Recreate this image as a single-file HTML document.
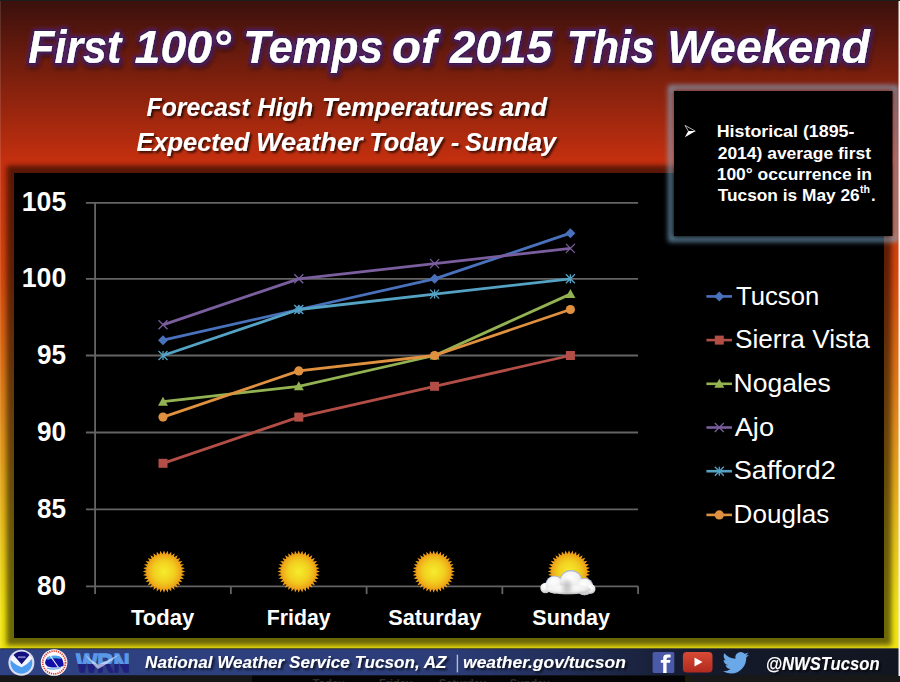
<!DOCTYPE html>
<html><head><meta charset="utf-8"><style>
html,body{margin:0;padding:0;}
body{width:900px;height:682px;overflow:hidden;position:relative;background:#161616;font-family:"Liberation Sans",sans-serif;}
svg{position:absolute;left:0;top:0;}
.yl{font-family:"Liberation Sans",sans-serif;font-weight:bold;font-size:28px;fill:#fff;}
.xl{font-family:"Liberation Sans",sans-serif;font-weight:bold;font-size:22px;fill:#fff;}
.lg{font-family:"Liberation Sans",sans-serif;font-size:26px;fill:#fff;}
.ti{font-family:"Liberation Sans",sans-serif;font-weight:bold;font-style:italic;}
.inf{font-family:"Liberation Sans",sans-serif;font-weight:bold;font-size:16.5px;fill:#fff;}
</style></head><body>
<svg width="900" height="682" viewBox="0 0 900 682">
<defs>
<linearGradient id="bg" x1="0" y1="0" x2="0" y2="1" gradientUnits="objectBoundingBox">
<stop offset="0" stop-color="#3a100c"/>
<stop offset="0.25" stop-color="#c5300f"/>
<stop offset="0.42" stop-color="#d4460c"/>
<stop offset="0.645" stop-color="#e08a18"/>
<stop offset="0.835" stop-color="#e8c418"/>
<stop offset="0.95" stop-color="#f0e410"/>
<stop offset="1" stop-color="#f0e410"/>
</linearGradient>
<linearGradient id="foot" x1="0" y1="0" x2="1" y2="0">
<stop offset="0" stop-color="#2f4283"/>
<stop offset="0.5" stop-color="#2c3d78"/>
<stop offset="0.78" stop-color="#141a2c"/>
<stop offset="1" stop-color="#121620"/>
</linearGradient>
<radialGradient id="sung" cx="0.5" cy="0.5" r="0.5">
<stop offset="0" stop-color="#f5ec2c"/>
<stop offset="0.6" stop-color="#f2cf1f"/>
<stop offset="0.92" stop-color="#eeac18"/>
<stop offset="1" stop-color="#ec9e16"/>
</radialGradient>
<radialGradient id="cloudg" cx="0.45" cy="0.3" r="0.7">
<stop offset="0" stop-color="#ffffff"/>
<stop offset="0.6" stop-color="#f0f0f0"/>
<stop offset="1" stop-color="#bdbdbd"/>
</radialGradient>
<filter id="soft" x="-20%" y="-20%" width="140%" height="140%"><feGaussianBlur stdDeviation="0.5"/></filter>
<filter id="soft2" x="-50%" y="-50%" width="200%" height="200%"><feGaussianBlur stdDeviation="2"/></filter>
<filter id="shadow" x="-10%" y="-10%" width="120%" height="120%">
<feGaussianBlur stdDeviation="2.6"/>
</filter>
<filter id="glow" x="-10%" y="-50%" width="120%" height="200%">
<feMorphology operator="dilate" radius="2.2" in="SourceAlpha" result="d"/>
<feGaussianBlur in="d" stdDeviation="2.2" result="b"/>
<feFlood flood-color="#5c2a6c"/>
<feComposite in2="b" operator="in" result="g"/>
<feMorphology operator="dilate" radius="1.2" in="SourceAlpha" result="d1"/>
<feGaussianBlur in="d1" stdDeviation="0.9" result="b1"/>
<feFlood flood-color="#2c1650"/>
<feComposite in2="b1" operator="in" result="g1"/>
<feGaussianBlur in="d" stdDeviation="2.5" result="b2"/>
<feOffset in="b2" dx="1.2" dy="3" result="o2"/>
<feFlood flood-color="#100414" flood-opacity="0.7"/>
<feComposite in2="o2" operator="in" result="g2"/>
<feMerge><feMergeNode in="g2"/><feMergeNode in="g"/><feMergeNode in="g1"/><feMergeNode in="SourceGraphic"/></feMerge>
</filter>
<filter id="sh2" x="-10%" y="-50%" width="120%" height="200%">
<feGaussianBlur in="SourceAlpha" stdDeviation="1.2" result="b"/>
<feOffset in="b" dx="1.5" dy="2" result="o"/>
<feFlood flood-color="#000" flood-opacity="0.7"/>
<feComposite in2="o" operator="in" result="s"/>
<feMerge><feMergeNode in="s"/><feMergeNode in="SourceGraphic"/></feMerge>
</filter>
<filter id="ibglow" x="-10%" y="-10%" width="120%" height="120%">
<feGaussianBlur stdDeviation="2.5"/>
</filter>
</defs>
<rect x="0" y="0" width="900" height="649" fill="url(#bg)"/>
<!-- title -->
<g class="ti" font-size="46" fill="#fff" filter="url(#glow)"><text x="28.3" y="63.2" textLength="92.91" lengthAdjust="spacingAndGlyphs">First</text><text x="134.5" y="63.2" textLength="96.36" lengthAdjust="spacingAndGlyphs">100°</text><text x="243.3" y="63.2" textLength="139.75" lengthAdjust="spacingAndGlyphs">Temps</text><text x="392" y="63.2" textLength="44.95" lengthAdjust="spacingAndGlyphs">of</text><text x="450" y="63.2" textLength="101.95" lengthAdjust="spacingAndGlyphs">2015</text><text x="566.8" y="63.2" textLength="87.84" lengthAdjust="spacingAndGlyphs">This</text><text x="667.2" y="63.2" textLength="202.74" lengthAdjust="spacingAndGlyphs">Weekend</text></g>
<g filter="url(#sh2)" fill="#fff" class="ti" font-size="25.5"><text x="146.6" y="116.2" textLength="103.12" lengthAdjust="spacingAndGlyphs">Forecast</text><text x="257.2" y="116.2" textLength="56.06" lengthAdjust="spacingAndGlyphs">High</text><text x="321.7" y="116.2" textLength="171.99" lengthAdjust="spacingAndGlyphs">Temperatures</text><text x="499.2" y="116.2" textLength="47.91" lengthAdjust="spacingAndGlyphs">and</text><text x="136.5" y="151.2" textLength="113.0" lengthAdjust="spacingAndGlyphs">Expected</text><text x="256" y="151.2" textLength="106.57" lengthAdjust="spacingAndGlyphs">Weather</text><text x="369.3" y="151.2" textLength="73.55" lengthAdjust="spacingAndGlyphs">Today</text><text x="450.7" y="151.2" textLength="8.6" lengthAdjust="spacingAndGlyphs">-</text><text x="465" y="151.2" textLength="91.12" lengthAdjust="spacingAndGlyphs">Sunday</text></g>
<!-- chart box -->
<rect x="6.5" y="165.5" width="885" height="480" fill="#000" opacity="0.55" filter="url(#shadow)"/>
<rect x="14" y="173" width="870" height="465" fill="#000"/>
<line x1="85.9" y1="586.3" x2="638.1" y2="586.3" stroke="#646464" stroke-width="1.8"/>
<line x1="85.9" y1="509.4" x2="638.1" y2="509.4" stroke="#646464" stroke-width="1.8"/>
<line x1="85.9" y1="432.5" x2="638.1" y2="432.5" stroke="#646464" stroke-width="1.8"/>
<line x1="85.9" y1="355.5" x2="638.1" y2="355.5" stroke="#646464" stroke-width="1.8"/>
<line x1="85.9" y1="278.8" x2="638.1" y2="278.8" stroke="#646464" stroke-width="1.8"/>
<line x1="85.9" y1="202.8" x2="638.1" y2="202.8" stroke="#646464" stroke-width="1.8"/>
<line x1="95.1" y1="202.8" x2="95.1" y2="594.1" stroke="#646464" stroke-width="1.8"/>
<line x1="230.85" y1="586.3" x2="230.85" y2="594.1" stroke="#646464" stroke-width="1.8"/>
<line x1="366.6" y1="586.3" x2="366.6" y2="594.1" stroke="#646464" stroke-width="1.8"/>
<line x1="502.35" y1="586.3" x2="502.35" y2="594.1" stroke="#646464" stroke-width="1.8"/>
<line x1="638.1" y1="586.3" x2="638.1" y2="594.1" stroke="#646464" stroke-width="1.8"/>
<text x="37" y="594.6" textLength="29.08" lengthAdjust="spacingAndGlyphs" class="yl">80</text>
<text x="37" y="517.7" textLength="29.08" lengthAdjust="spacingAndGlyphs" class="yl">85</text>
<text x="37" y="440.8" textLength="29.08" lengthAdjust="spacingAndGlyphs" class="yl">90</text>
<text x="37" y="363.8" textLength="29.08" lengthAdjust="spacingAndGlyphs" class="yl">95</text>
<text x="21.7" y="287.1" textLength="44.6" lengthAdjust="spacingAndGlyphs" class="yl">100</text>
<text x="21.7" y="211.1" textLength="44.6" lengthAdjust="spacingAndGlyphs" class="yl">105</text>
<text x="131" y="624.5" textLength="63.36" lengthAdjust="spacingAndGlyphs" class="xl">Today</text>
<text x="266.8" y="624.5" textLength="63.8" lengthAdjust="spacingAndGlyphs" class="xl">Friday</text>
<text x="388.3" y="624.5" textLength="92.95" lengthAdjust="spacingAndGlyphs" class="xl">Saturday</text>
<text x="532.3" y="624.5" textLength="77.64" lengthAdjust="spacingAndGlyphs" class="xl">Sunday</text>
<polygon points="185.20,571.60 181.33,573.12 184.88,575.28 180.81,576.10 183.92,578.85 179.77,578.95 182.36,582.20 178.25,581.58 180.24,585.23 176.30,583.90 177.63,587.84 173.98,585.85 174.60,589.96 171.35,587.37 171.25,591.52 168.50,588.41 167.68,592.48 165.52,588.93 164.00,592.80 162.48,588.93 160.32,592.48 159.50,588.41 156.75,591.52 156.65,587.37 153.40,589.96 154.02,585.85 150.37,587.84 151.70,583.90 147.76,585.23 149.75,581.58 145.64,582.20 148.23,578.95 144.08,578.85 147.19,576.10 143.12,575.28 146.67,573.12 142.80,571.60 146.67,570.08 143.12,567.92 147.19,567.10 144.08,564.35 148.23,564.25 145.64,561.00 149.75,561.62 147.76,557.97 151.70,559.30 150.37,555.36 154.02,557.35 153.40,553.24 156.65,555.83 156.75,551.68 159.50,554.79 160.32,550.72 162.48,554.27 164.00,550.40 165.52,554.27 167.68,550.72 168.50,554.79 171.25,551.68 171.35,555.83 174.60,553.24 173.98,557.35 177.63,555.36 176.30,559.30 180.24,557.97 178.25,561.62 182.36,561.00 179.77,564.25 183.92,564.35 180.81,567.10 184.88,567.92 181.33,570.08" fill="#EE9E16"/><circle cx="164" cy="571.6" r="17.6" fill="url(#sung)"/>
<polygon points="319.90,571.60 316.03,573.12 319.58,575.28 315.51,576.10 318.62,578.85 314.47,578.95 317.06,582.20 312.95,581.58 314.94,585.23 311.00,583.90 312.33,587.84 308.68,585.85 309.30,589.96 306.05,587.37 305.95,591.52 303.20,588.41 302.38,592.48 300.22,588.93 298.70,592.80 297.18,588.93 295.02,592.48 294.20,588.41 291.45,591.52 291.35,587.37 288.10,589.96 288.72,585.85 285.07,587.84 286.40,583.90 282.46,585.23 284.45,581.58 280.34,582.20 282.93,578.95 278.78,578.85 281.89,576.10 277.82,575.28 281.37,573.12 277.50,571.60 281.37,570.08 277.82,567.92 281.89,567.10 278.78,564.35 282.93,564.25 280.34,561.00 284.45,561.62 282.46,557.97 286.40,559.30 285.07,555.36 288.72,557.35 288.10,553.24 291.35,555.83 291.45,551.68 294.20,554.79 295.02,550.72 297.18,554.27 298.70,550.40 300.22,554.27 302.38,550.72 303.20,554.79 305.95,551.68 306.05,555.83 309.30,553.24 308.68,557.35 312.33,555.36 311.00,559.30 314.94,557.97 312.95,561.62 317.06,561.00 314.47,564.25 318.62,564.35 315.51,567.10 319.58,567.92 316.03,570.08" fill="#EE9E16"/><circle cx="298.7" cy="571.6" r="17.6" fill="url(#sung)"/>
<polygon points="454.90,571.60 451.03,573.12 454.58,575.28 450.51,576.10 453.62,578.85 449.47,578.95 452.06,582.20 447.95,581.58 449.94,585.23 446.00,583.90 447.33,587.84 443.68,585.85 444.30,589.96 441.05,587.37 440.95,591.52 438.20,588.41 437.38,592.48 435.22,588.93 433.70,592.80 432.18,588.93 430.02,592.48 429.20,588.41 426.45,591.52 426.35,587.37 423.10,589.96 423.72,585.85 420.07,587.84 421.40,583.90 417.46,585.23 419.45,581.58 415.34,582.20 417.93,578.95 413.78,578.85 416.89,576.10 412.82,575.28 416.37,573.12 412.50,571.60 416.37,570.08 412.82,567.92 416.89,567.10 413.78,564.35 417.93,564.25 415.34,561.00 419.45,561.62 417.46,557.97 421.40,559.30 420.07,555.36 423.72,557.35 423.10,553.24 426.35,555.83 426.45,551.68 429.20,554.79 430.02,550.72 432.18,554.27 433.70,550.40 435.22,554.27 437.38,550.72 438.20,554.79 440.95,551.68 441.05,555.83 444.30,553.24 443.68,557.35 447.33,555.36 446.00,559.30 449.94,557.97 447.95,561.62 452.06,561.00 449.47,564.25 453.62,564.35 450.51,567.10 454.58,567.92 451.03,570.08" fill="#EE9E16"/><circle cx="433.7" cy="571.6" r="17.6" fill="url(#sung)"/>
<polygon points="590.20,571.40 586.33,572.92 589.88,575.08 585.81,575.90 588.92,578.65 584.77,578.75 587.36,582.00 583.25,581.38 585.24,585.03 581.30,583.70 582.63,587.64 578.98,585.65 579.60,589.76 576.35,587.17 576.25,591.32 573.50,588.21 572.68,592.28 570.52,588.73 569.00,592.60 567.48,588.73 565.32,592.28 564.50,588.21 561.75,591.32 561.65,587.17 558.40,589.76 559.02,585.65 555.37,587.64 556.70,583.70 552.76,585.03 554.75,581.38 550.64,582.00 553.23,578.75 549.08,578.65 552.19,575.90 548.12,575.08 551.67,572.92 547.80,571.40 551.67,569.88 548.12,567.72 552.19,566.90 549.08,564.15 553.23,564.05 550.64,560.80 554.75,561.42 552.76,557.77 556.70,559.10 555.37,555.16 559.02,557.15 558.40,553.04 561.65,555.63 561.75,551.48 564.50,554.59 565.32,550.52 567.48,554.07 569.00,550.20 570.52,554.07 572.68,550.52 573.50,554.59 576.25,551.48 576.35,555.63 579.60,553.04 578.98,557.15 582.63,555.16 581.30,559.10 585.24,557.77 583.25,561.42 587.36,560.80 584.77,564.05 588.92,564.15 585.81,566.90 589.88,567.72 586.33,569.88" fill="#EE9E16"/><circle cx="569" cy="571.4" r="17.6" fill="url(#sung)"/>
<g filter="url(#soft)">
<g fill="#a8b4d8">
<circle cx="554.5" cy="584.5" r="9"/><circle cx="571" cy="581.3" r="11.4"/><circle cx="584.5" cy="586.5" r="8.8"/>
</g>
<g fill="url(#cloudg)">
<circle cx="545.5" cy="588" r="5.2"/><circle cx="554.5" cy="585" r="8.4"/><circle cx="571" cy="582" r="10.8"/><circle cx="584.5" cy="587" r="8.2"/><circle cx="590.5" cy="589" r="5"/>
<ellipse cx="568" cy="589.5" rx="23" ry="4.8"/>
</g>
<ellipse cx="567" cy="587" rx="4.5" ry="6.5" fill="#9a9a9a" opacity="0.55" filter="url(#soft2)"/>
</g>
<polyline points="163,340.2 298.8,309.5 434.6,278.8 570.4,233.2" fill="none" stroke="#4a72bc" stroke-width="2.8" stroke-linejoin="round"/>
<path d="M163.0 335.2L168.0 340.2L163.0 345.2L158.0 340.2Z" fill="#4a72bc"/>
<path d="M298.8 304.5L303.8 309.5L298.8 314.5L293.8 309.5Z" fill="#4a72bc"/>
<path d="M434.6 273.8L439.6 278.8L434.6 283.8L429.6 278.8Z" fill="#4a72bc"/>
<path d="M570.4 228.2L575.4 233.2L570.4 238.2L565.4 233.2Z" fill="#4a72bc"/>
<polyline points="163,463.3 298.8,417.1 434.6,386.3 570.4,355.5" fill="none" stroke="#b34e47" stroke-width="2.8" stroke-linejoin="round"/>
<rect x="158.5" y="458.8" width="9.0" height="9.0" fill="#b34e47"/>
<rect x="294.3" y="412.6" width="9.0" height="9.0" fill="#b34e47"/>
<rect x="430.1" y="381.8" width="9.0" height="9.0" fill="#b34e47"/>
<rect x="565.9" y="351.0" width="9.0" height="9.0" fill="#b34e47"/>
<polyline points="163,401.7 298.8,386.3 434.6,355.5 570.4,294.1" fill="none" stroke="#93b352" stroke-width="2.8" stroke-linejoin="round"/>
<path d="M163.0 396.7L168.0 405.7L158.0 405.7Z" fill="#93b352"/>
<path d="M298.8 381.3L303.8 390.3L293.8 390.3Z" fill="#93b352"/>
<path d="M434.6 350.5L439.6 359.5L429.6 359.5Z" fill="#93b352"/>
<path d="M570.4 289.1L575.4 298.1L565.4 298.1Z" fill="#93b352"/>
<polyline points="163,324.8 298.8,278.8 434.6,263.6 570.4,248.4" fill="none" stroke="#7a5e9e" stroke-width="2.8" stroke-linejoin="round"/>
<path d="M158.5 320.3L167.5 329.3M167.5 320.3L158.5 329.3" stroke="#7a5e9e" stroke-width="1.3" fill="none"/>
<path d="M294.3 274.3L303.3 283.3M303.3 274.3L294.3 283.3" stroke="#7a5e9e" stroke-width="1.3" fill="none"/>
<path d="M430.1 259.1L439.1 268.1M439.1 259.1L430.1 268.1" stroke="#7a5e9e" stroke-width="1.3" fill="none"/>
<path d="M565.9 243.9L574.9 252.9M574.9 243.9L565.9 252.9" stroke="#7a5e9e" stroke-width="1.3" fill="none"/>
<polyline points="163,355.5 298.8,309.5 434.6,294.1 570.4,278.8" fill="none" stroke="#55a3c4" stroke-width="2.8" stroke-linejoin="round"/>
<path d="M158.5 351.0L167.5 360.0M167.5 351.0L158.5 360.0M163.0 351.0L163.0 360.0" stroke="#55a3c4" stroke-width="1.3" fill="none"/>
<path d="M294.3 305.0L303.3 314.0M303.3 305.0L294.3 314.0M298.8 305.0L298.8 314.0" stroke="#55a3c4" stroke-width="1.3" fill="none"/>
<path d="M430.1 289.6L439.1 298.6M439.1 289.6L430.1 298.6M434.6 289.6L434.6 298.6" stroke="#55a3c4" stroke-width="1.3" fill="none"/>
<path d="M565.9 274.3L574.9 283.3M574.9 274.3L565.9 283.3M570.4 274.3L570.4 283.3" stroke="#55a3c4" stroke-width="1.3" fill="none"/>
<polyline points="163,417.1 298.8,370.9 434.6,355.5 570.4,309.5" fill="none" stroke="#e0913f" stroke-width="2.8" stroke-linejoin="round"/>
<circle cx="163.0" cy="417.1" r="4.6" fill="#e0913f"/>
<circle cx="298.8" cy="370.9" r="4.6" fill="#e0913f"/>
<circle cx="434.6" cy="355.5" r="4.6" fill="#e0913f"/>
<circle cx="570.4" cy="309.5" r="4.6" fill="#e0913f"/>
<line x1="706.4" y1="296.4" x2="732" y2="296.4" stroke="#4a72bc" stroke-width="2.6"/>
<path d="M719.3 291.4L724.3 296.4L719.3 301.4L714.3 296.4Z" fill="#4a72bc"/>
<text x="736" y="304.6" textLength="83.28" lengthAdjust="spacingAndGlyphs" class="lg">Tucson</text>
<line x1="706.4" y1="340.1" x2="732" y2="340.1" stroke="#b34e47" stroke-width="2.6"/>
<rect x="714.8" y="335.6" width="9.0" height="9.0" fill="#b34e47"/>
<text x="735" y="348.3" textLength="134.93" lengthAdjust="spacingAndGlyphs" class="lg">Sierra Vista</text>
<line x1="706.4" y1="383.8" x2="732" y2="383.8" stroke="#93b352" stroke-width="2.6"/>
<path d="M719.3 378.8L724.3 387.8L714.3 387.8Z" fill="#93b352"/>
<text x="733.6" y="392.0" textLength="97.26" lengthAdjust="spacingAndGlyphs" class="lg">Nogales</text>
<line x1="706.4" y1="427.5" x2="732" y2="427.5" stroke="#7a5e9e" stroke-width="2.6"/>
<path d="M714.8 423.0L723.8 432.0M723.8 423.0L714.8 432.0" stroke="#7a5e9e" stroke-width="1.3" fill="none"/>
<text x="734.7" y="435.7" textLength="39.41" lengthAdjust="spacingAndGlyphs" class="lg">Ajo</text>
<line x1="706.4" y1="471.2" x2="732" y2="471.2" stroke="#55a3c4" stroke-width="2.6"/>
<path d="M714.8 466.7L723.8 475.7M723.8 466.7L714.8 475.7M719.3 466.7L719.3 475.7" stroke="#55a3c4" stroke-width="1.3" fill="none"/>
<text x="733.7" y="479.4" textLength="102.11" lengthAdjust="spacingAndGlyphs" class="lg">Safford2</text>
<line x1="706.4" y1="514.9" x2="732" y2="514.9" stroke="#e0913f" stroke-width="2.6"/>
<circle cx="719.3" cy="514.9" r="4.6" fill="#e0913f"/>
<text x="733.6" y="523.1" textLength="95.62" lengthAdjust="spacingAndGlyphs" class="lg">Douglas</text>
<!-- info box -->
<rect x="670.5" y="87.5" width="225.5" height="152" fill="none" stroke="#80b4d8" stroke-width="4.5" opacity="0.75" filter="url(#ibglow)"/>
<rect x="674" y="91" width="218.5" height="145" fill="#000"/>
<path d="M688.3 131.1 L695.7 131.1 L684.8 137.3Z" fill="#fff"/><path d="M685 125.4 L695.3 131.1 M685 125.4 L688.3 131.1" stroke="#c8c8c8" stroke-width="0.9" fill="none"/>
<g class="inf">
<text x="716.7" y="137.3" textLength="137.81" lengthAdjust="spacingAndGlyphs">Historical (1895-</text>
<text x="717.7" y="158.7" textLength="153.33" lengthAdjust="spacingAndGlyphs">2014) average first</text>
<text x="716.7" y="179.8" textLength="155.23" lengthAdjust="spacingAndGlyphs">100° occurrence in</text>
<text x="717.7" y="200.7" textLength="142.04" lengthAdjust="spacingAndGlyphs">Tucson is May 26</text>
<text x="860" y="193" font-size="10.5" textLength="10" lengthAdjust="spacingAndGlyphs">th</text>
<text x="871" y="200.7">.</text>
</g>
<!-- footer -->
<rect x="0" y="675.5" width="252" height="7" fill="#161616"/>
<rect x="252" y="675.5" width="433" height="7" fill="#040404"/>
<rect x="685" y="675.5" width="5" height="7" fill="#1c1a08"/>
<rect x="690" y="675.5" width="210" height="7" fill="#181818"/>
<g font-family="Liberation Sans" font-weight="bold" font-size="11" fill="#2e2e2e" text-anchor="middle">
<text x="328.5" y="686.5">Today</text><text x="395.5" y="686.5">Friday</text><text x="462.5" y="686.5">Saturday</text><text x="529.5" y="686.5">Sunday</text>
</g>
<rect x="0" y="648.3" width="900" height="1.2" fill="#1a2040"/>
<rect x="0" y="649.2" width="900" height="26" fill="url(#foot)"/>
<g class="ti" fill="#fff" filter="url(#sh2)">
<text x="145.1" y="667.6" font-size="16" textLength="301.42" lengthAdjust="spacingAndGlyphs">National Weather Service Tucson, AZ</text>
<text x="463.1" y="667.6" font-size="16" textLength="162.7" lengthAdjust="spacingAndGlyphs">weather.gov/tucson</text>
<text x="765.7" y="669.8" font-size="18" textLength="113.94" lengthAdjust="spacingAndGlyphs">@NWSTucson</text>
</g>
<rect x="456.7" y="654.7" width="1.4" height="17.7" fill="#b8bcc8"/>
<!-- logos -->
<circle cx="21.4" cy="662.7" r="13" fill="#dcdcee"/>
<circle cx="21.4" cy="662.7" r="11.2" fill="#f4f6ff"/>
<path d="M10.74 660 Q16 665.5 21.6 667.2 Q27 665 31.76 659 A11 11 0 1 1 10.74 660 Z" fill="#4c9cf0"/>
<path d="M13.5 655 A11 11 0 0 1 29.5 655 L21.6 664.2 Z" fill="#14107e"/>
<rect x="18" y="656.3" width="7.5" height="1.8" fill="#9a9ad8" opacity="0.8"/>
<circle cx="54.1" cy="662.5" r="13.3" fill="#fbfbff"/>
<circle cx="54.1" cy="662.5" r="11.4" fill="none" stroke="#e04030" stroke-width="1.8" stroke-dasharray="1.3 0.9"/>
<path d="M45 663 Q46 657 50 656.5 Q56 655 61 657.5 Q64 661 63.5 666 Q58 668 52 667.5 Q46 667 45 663Z" fill="#1010a8"/>
<path d="M47 657.5 Q53 654 60 656.5 L61 659 Q53 657 47.5 660Z" fill="#4aa4e8"/>
<path d="M50 655.5 L58.5 667.5" stroke="#e8f0ff" stroke-width="1.2"/>
<path d="M47 668 Q54 670.5 61 667.5" stroke="#60a8e8" stroke-width="1.2" fill="none"/>
<clipPath id="wrnTop"><rect x="70" y="650" width="65" height="14"/></clipPath>
<clipPath id="wrnBot"><rect x="70" y="664" width="65" height="12"/></clipPath>
<text x="76.3" y="672" font-size="25" font-weight="bold" fill="#5a98e8" stroke="#5a98e8" stroke-width="1.4" font-family="Liberation Sans" textLength="53.2" lengthAdjust="spacingAndGlyphs" clip-path="url(#wrnTop)">WRN</text>
<text x="76.3" y="672" font-size="25" font-weight="bold" fill="#20207e" stroke="#20207e" stroke-width="1.4" font-family="Liberation Sans" textLength="53.2" lengthAdjust="spacingAndGlyphs" clip-path="url(#wrnBot)">WRN</text>
<path d="M85 654.5 Q92 664 98 669 Q108 664 119 654.5 Q107 661 98 664.5 Q92 661 85 654.5Z" fill="#dce8ff" opacity="0.7"/>
<rect x="652.6" y="651.9" width="21.7" height="21" rx="1.5" fill="#4a5aa8"/>
<path d="M663.2 672.9 V662.8 H660.8 V660 H663.2 V658 Q663.2 654.6 667 654.6 H670.6 V657.4 H668.2 Q666.6 657.4 666.6 659 V660 H670.4 L670 662.8 H666.6 V672.9Z" fill="#fff"/>
<linearGradient id="ytg" x1="0" y1="0" x2="0" y2="1"><stop offset="0" stop-color="#d84a34"/><stop offset="1" stop-color="#b02a1e"/></linearGradient>
<rect x="682.9" y="651.9" width="29.6" height="20.6" rx="4" fill="url(#ytg)"/>
<path d="M694.5 657.4 L702.5 662 L694.5 666.6Z" fill="#fff"/>
<path transform="translate(722.6 649.7) scale(1.096)" fill="#6aa8e8" d="M23.953 4.57a10 10 0 01-2.825.775 4.958 4.958 0 002.163-2.723c-.951.555-2.005.959-3.127 1.184a4.92 4.92 0 00-8.384 4.482C7.69 8.095 4.067 6.13 1.64 3.162a4.822 4.822 0 00-.666 2.475c0 1.71.87 3.213 2.188 4.096a4.904 4.904 0 01-2.228-.616v.06a4.923 4.923 0 003.946 4.827 4.996 4.996 0 01-2.212.085 4.936 4.936 0 004.604 3.417 9.867 9.867 0 01-6.102 2.105c-.39 0-.779-.023-1.17-.067a13.995 13.995 0 007.557 2.209c9.053 0 13.998-7.496 13.998-13.985 0-.21 0-.42-.015-.63A9.935 9.935 0 0024 4.59z"/>
<!-- edges -->
<rect x="0" y="0" width="900" height="1" fill="#1c1e1e"/><rect x="0" y="1" width="1" height="648" fill="#ffffff" opacity="0.12"/>
<rect x="898.5" y="1" width="1.5" height="675" fill="#f4f4f4"/>
</svg>
</body></html>
